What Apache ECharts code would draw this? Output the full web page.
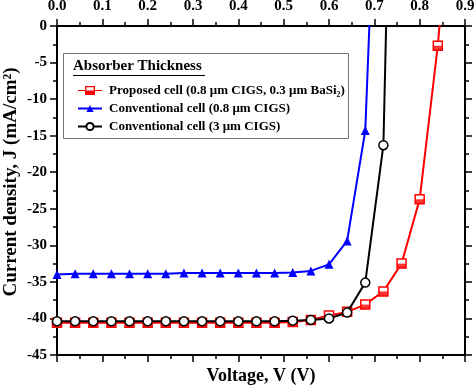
<!DOCTYPE html>
<html><head><meta charset="utf-8">
<script src="https://cdn.jsdelivr.net/npm/echarts@6/dist/echarts.min.js"></script>
<style>html,body{margin:0;padding:0;background:#fff}#c{width:474px;height:387px}</style>
</head><body><div id="c"></div>
<script>
// Data
const voltRed = [0,0.04,0.08,0.12,0.16,0.20,0.24,0.28,0.32,0.36,0.40,0.44,0.48,0.52,0.56,0.60,0.64,0.68,0.72,0.76,0.80,0.84,0.88];
const jRed    = [-40.6,-40.6,-40.6,-40.6,-40.6,-40.6,-40.6,-40.6,-40.6,-40.6,-40.6,-40.6,-40.6,-40.5,-40.2,-39.6,-39.1,-38.1,-36.3,-32.5,-23.7,-2.7,26];
const voltBlue = [0,0.04,0.08,0.12,0.16,0.20,0.24,0.28,0.32,0.36,0.40,0.44,0.48,0.52,0.56,0.60,0.64,0.68,0.72];
const jBlue    = [-34.0,-33.9,-33.9,-33.9,-33.9,-33.9,-33.9,-33.8,-33.8,-33.8,-33.8,-33.8,-33.8,-33.7,-33.5,-32.6,-29.4,-14.3,49];
const voltBlack = [0,0.04,0.08,0.12,0.16,0.20,0.24,0.28,0.32,0.36,0.40,0.44,0.48,0.52,0.56,0.60,0.64,0.68,0.72,0.76];
const jBlack    = [-40.4,-40.4,-40.4,-40.4,-40.4,-40.4,-40.4,-40.4,-40.4,-40.4,-40.4,-40.4,-40.4,-40.3,-40.2,-40.0,-39.2,-35.1,-16.3,92];
const seriesNames = ['Proposed cell (0.8 μm CIGS, 0.3 μm BaSi₂)','Conventional cell (0.8 μm CIGS)','Conventional cell (3 μm CIGS)'];
const legendTitle = 'Absorber Thickness';
const xAxisTitle = 'Voltage, V (V)';
const yAxisTitle = 'Current density, J (mA/cm²)';

const FONT = '"Liberation Serif","Times New Roman",serif';
const zip = (a,b)=>a.map((v,i)=>[v,b[i]]);
const chart = echarts.init(document.getElementById('c'), null, {renderer:'canvas'});

const axisCommon = {
  axisLine:{show:true,onZero:false,lineStyle:{color:'#000',width:2}},
  axisTick:{show:true,inside:false,length:7,lineStyle:{color:'#000',width:1.5}},
  minorTick:{show:true,splitNumber:2,length:4,lineStyle:{color:'#000',width:1.5}},
  splitLine:{show:false},
  axisLabel:{show:false}
};
const labelStyle = {color:'#000',fontFamily:FONT,fontWeight:'bold',fontSize:15};

const halfPath = 'path://M0,4L7,4L7,0L17,0L17,4L24,4L24,5L17,5L17,9L7,9L7,5L0,5Z M8.3,1.3L8.3,4.5L15.7,4.5L15.7,1.3Z';

chart.setOption({
  animation:false,
  backgroundColor:'#fff',
  grid:{left:57,right:9,top:26,bottom:32,containLabel:false,outerBoundsMode:'none'},
  xAxis:[
    Object.assign({},axisCommon,{type:'value',position:'bottom',min:0,max:0.9,interval:0.1,
      name:xAxisTitle,nameLocation:'middle',nameGap:12,
      nameTextStyle:{color:'#000',fontFamily:FONT,fontWeight:'bold',fontSize:18,verticalAlign:'top'}}),
    Object.assign({},axisCommon,{type:'value',position:'top',min:0,max:0.9,interval:0.1,
      axisLabel:Object.assign({show:true,margin:12,formatter:v=>v.toFixed(1)},labelStyle)})
  ],
  yAxis:[
    Object.assign({},axisCommon,{type:'value',position:'left',min:-45,max:0,interval:5,
      axisLabel:Object.assign({show:true,margin:10},labelStyle)}),
    Object.assign({},axisCommon,{type:'value',position:'right',min:-45,max:0,interval:5})
  ],
  legend:{
    orient:'vertical',left:72,top:79,itemGap:5,itemWidth:24,itemHeight:9,
    textStyle:{color:'#000',fontFamily:FONT,fontWeight:'bold',fontSize:13,padding:[0,0,0,2]},
    data:[
      {name:seriesNames[0],icon:halfPath,itemStyle:{color:'#ff0000',borderWidth:0}},
      {name:seriesNames[1]},
      {name:seriesNames[2]}
    ]
  },
  graphic:[
    {type:'rect',left:63,top:53,shape:{width:285,height:85},style:{fill:'#fff',stroke:'#777',lineWidth:1},z:0},
    {type:'text',left:73,top:59,style:{text:legendTitle,fill:'#000',font:'bold 15px '+FONT},z:1},
    {type:'line',shape:{x1:73,y1:75.5,x2:205,y2:75.5},style:{stroke:'#000',lineWidth:1},z:1},
    {type:'text',x:11,y:182,rotation:Math.PI/2,
     style:{text:yAxisTitle,fill:'#000',font:'bold 19px '+FONT,align:'center',verticalAlign:'middle'},z:1}
  ],
  series:[
    {name:seriesNames[0],type:'line',data:zip(voltRed,jRed),clip:true,
     symbol:'rect',symbolSize:9,lineStyle:{color:'#ff0000',width:2},
     itemStyle:{color:'#fff',borderColor:'#ff0000',borderWidth:1.5},z:2},
    {name:'redfill',type:'scatter',data:zip(voltRed,jRed),clip:true,
     symbol:'rect',symbolSize:[9,4.5],symbolOffset:[0,'50%'],
     itemStyle:{color:'#ff0000'},z:2,silent:true},
    {name:seriesNames[1],type:'line',data:zip(voltBlue,jBlue),clip:true,
     symbol:'triangle',symbolSize:9,lineStyle:{color:'#0000ff',width:2},
     itemStyle:{color:'#0000ff',borderColor:'#0000ff',borderWidth:0},z:3},
    {name:seriesNames[2],type:'line',data:zip(voltBlack,jBlack),clip:true,
     symbol:'circle',symbolSize:9,lineStyle:{color:'#000',width:2},
     itemStyle:{color:'#fff',borderColor:'#000',borderWidth:1.5},z:4}
  ]
});
</script></body></html>
